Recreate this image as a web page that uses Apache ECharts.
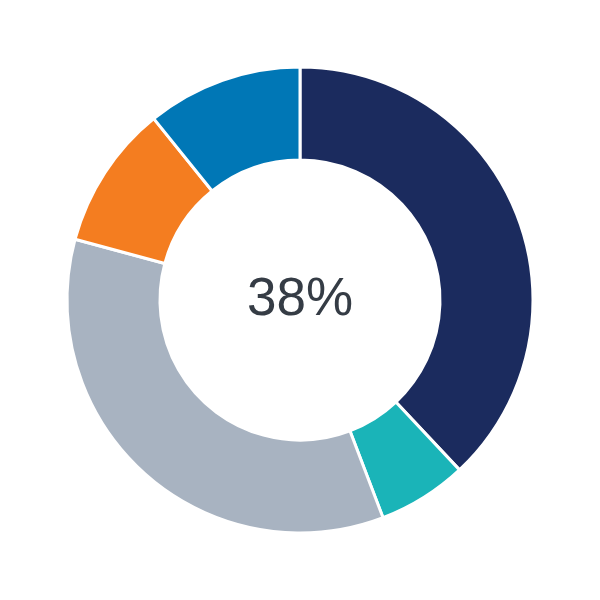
<!DOCTYPE html>
<html lang="en">
  <head>
    <meta charset="UTF-8" />
    <title>Donut</title>
    <script src="https://cdn.jsdelivr.net/npm/echarts@6/dist/echarts.min.js"></script>
    <style>
      html, body { margin: 0; padding: 0; background: #fff; }
    </style>
  </head>
  <body>
    <div id="main" style="width: 600px; height: 600px"></div>
    <script type="text/javascript">
      // segments clockwise from 12 o'clock
      var segmentNames = ["A", "B", "C", "D", "E"];
      var segmentValues = [38, 6.2, 35, 10, 10.8];
      var segmentColors = ["#1b2b5e", "#1ab4b8", "#a8b3c1", "#f47d20", "#0077b6"];
      var centerLabel = "38%";

      var myChart = echarts.init(document.getElementById("main"));

      var data = segmentNames.map(function (name, i) {
        return {
          name: name,
          value: segmentValues[i],
          itemStyle: { color: segmentColors[i] }
        };
      });

      var option = {
        animation: false,
        title: {
          text: centerLabel,
          left: "center",
          top: "center",
          textStyle: {
            fontFamily: "Liberation Sans, Arial, sans-serif",
            fontSize: 53,
            fontWeight: "normal",
            color: "#353c45"
          }
        },
        series: [
          {
            type: "pie",
            center: [300, 300],
            radius: [140, 233],
            startAngle: 90,
            clockwise: true,
            label: { show: false },
            labelLine: { show: false },
            itemStyle: { borderColor: "#fff", borderWidth: 3 },
            emphasis: { disabled: true },
            data: data
          }
        ]
      };

      myChart.setOption(option);
    </script>
  </body>
</html>
